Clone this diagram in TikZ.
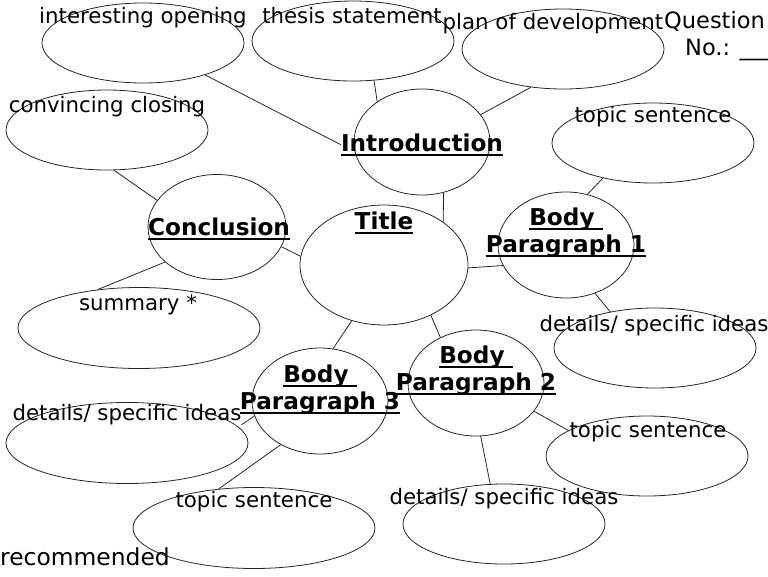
\documentclass[tikz,border=0pt]{standalone}
\usepackage{fontspec}
\setmainfont{DejaVu Sans}
\usetikzlibrary{shapes.geometric}
\newcommand\myul[1]{\leavevmode\setbox0\hbox{#1}\rlap{\vrule width\wd0 height -3pt depth 5pt}\box0}
\begin{document}
\begin{tikzpicture}[x=1pt,y=-1pt,
  bub/.style={ellipse,draw=black!85,line width=0.8pt,inner sep=0pt},
  small/.style={bub,minimum width=202pt,minimum height=80pt},
  wide/.style={bub,minimum width=242pt,minimum height=81pt},
  mid/.style={bub,minimum width=136pt,minimum height=106pt},
  lbl/.style={anchor=base,inner sep=0pt,font=\fontsize{21.3}{25}\selectfont},
  head/.style={anchor=base,inner sep=0pt,font=\fontsize{23.2}{27}\selectfont\bfseries},
  con/.style={draw=black!85,line width=0.8pt}]
\clip (0,0) rectangle (768,576);
% ellipses
\node[small] (io) at (143,43) {};
\node[small] (ts) at (353,41) {};
\node[small] (pd) at (563,49) {};
\node[small] (cc) at (107,130) {};
\node[mid] (intro) at (422,142) {};
\node[small] (tsa) at (653,143) {};
\node[bub,minimum width=138pt,minimum height=105pt] (conc) at (217,227) {};
\node[bub,minimum width=168pt,minimum height=120pt] (title) at (384,265) {};
\node[mid] (b1) at (566,245) {};
\node[wide] (sum) at (139,328) {};
\node[small] (dr) at (655,348) {};
\node[mid] (b2) at (476,383) {};
\node[mid] (b3) at (320,401) {};
\node[wide] (dl) at (127,443) {};
\node[small] (tsr) at (647,456) {};
\node[wide] (tsb) at (254,528) {};
\node[small] (db) at (504,524) {};
% texts
\node[lbl] (ioT) at (143,23) {interesting opening};
\node[lbl] (tsT) at (352,23) {thesis statement};
\node[lbl] (pdT) at (553,29) {plan of development};
\node[lbl,anchor=base west,font=\fontsize{22.5}{26}\selectfont] (qT) at (664,28) {Question};
\node[lbl,anchor=base west,font=\fontsize{22.5}{26}\selectfont] (noT) at (685,55) {No.: \_\_\_};
\node[lbl] (ccT) at (107,112) {convincing closing};
\node[head] (introT) at (422,151) {\myul{Introduction}};
\node[lbl] (tsaT) at (653,122) {topic sentence};
\node[head] (concT) at (219,235) {\myul{Conclusion}};
\node[head] (titleT) at (384,229) {\myul{Title}};
\node[head] (b1a) at (566,225) {\myul{Body\ }};
\node[head] (b1b) at (566,252) {\myul{Paragraph 1}};
\node[lbl] (sumT) at (138,310) {summary *};
\node[lbl] (drT) at (654,331) {details/ specific ideas};
\node[head] (b2a) at (476,363) {\myul{Body\ }};
\node[head] (b2b) at (476,390) {\myul{Paragraph 2}};
\node[head] (b3a) at (320,382) {\myul{Body\ }};
\node[head] (b3b) at (320,409) {\myul{Paragraph 3}};
\node[lbl] (dlT) at (127,420) {details/ specific ideas};
\node[lbl] (tsrT) at (648,437) {topic sentence};
\node[lbl] (dbT) at (504,504) {details/ specific ideas};
\node[lbl] (tsbT) at (254,507) {topic sentence};
\node[lbl,anchor=base west,font=\fontsize{23.4}{27}\selectfont] (recT) at (0,565) {recommended};
% connectors
\draw[con] (io) -- (introT.west);
\draw[con] (ts.-62) -- (intro.138);
\draw[con] (pd.-130) -- (intro.25);
\draw[con] (intro.-67) -- (title.36);
\draw[con] (cc.-80) -- (conc.156);
\draw[con] (conc.-146) -- (sum.137);
\draw[con] (conc.-17) -- (title.174);
\draw[con] (title.-2) -- (b1.-162);
\draw[con] (tsa.-145) -- (b1.67);
\draw[con] (b1.-59) -- (dr.141);
\draw[con] (title.-120) -- (b3.76);
\draw[con] (title.-47) -- (b2.128);
\draw[con] (b2.-26) -- (tsr.162);
\draw[con] (b2.-85) -- (db.109);
\draw[con] (dlT.south east) -- (b3.-167);
\draw[con] (b3.-132) -- (tsb.132);
\end{tikzpicture}
\end{document}
